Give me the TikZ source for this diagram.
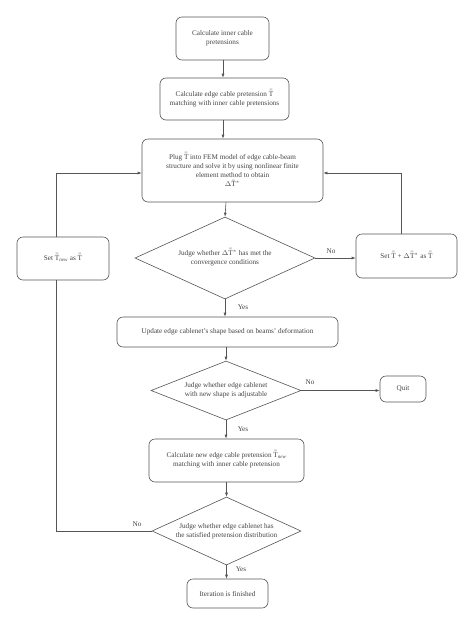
\documentclass[tikz,border=0pt]{standalone}
\usepackage{fontspec}
\setmainfont{Liberation Serif}
\usetikzlibrary{shapes.geometric,arrows.meta}
\definecolor{txt}{HTML}{444444}
\definecolor{ln}{HTML}{555555}
\newcommand{\TT}{\smash{\bar{\bar{\mathrm{T}}}}}
\begin{document}
\begin{tikzpicture}[x=1pt,y=1pt,
  every node/.style={font=\fontsize{7.2}{9.2}\selectfont, text=txt},
  box/.style={draw=ln, line width=0.6pt, rounded corners=6pt, fill=white, align=center, inner sep=0pt},
  dia/.style={draw=ln, line width=0.6pt, diamond, aspect=2, fill=white, align=center, inner sep=0pt},
  arr/.style={draw=ln, line width=0.6pt, -{Latex[length=4pt,width=3pt]}},
  lin/.style={draw=ln, line width=0.6pt},
  lbl/.style={font=\fontsize{7.2}{9}\selectfont, inner sep=0pt}
]
\useasboundingbox (0,0) rectangle (474,-625);
\fill[white] (0,0) rectangle (474,-625);

\node[box, minimum width=93pt, minimum height=43pt] (n1) at (222.5,-38.5) {Calculate inner cable\\pretensions};
\node[box, minimum width=129pt, minimum height=42pt] (n2) at (224.5,-99) {Calculate edge cable pretension $\TT$\\matching with inner cable pretensions};
\node[box, minimum width=181pt, minimum height=63pt] (n3) at (232.5,-170.5) {Plug $\TT$ into FEM model of edge cable-beam\\structure and solve it by using nonlinear finite\\element method to obtain\\$\Delta\TT^{*}$};
\node[dia, minimum width=180pt, minimum height=82pt] (d1) at (225,-258) {Judge whether $\Delta\TT^{*}$ has met the\\convergence conditions};
\node[box, minimum width=92pt, minimum height=43pt] (setL) at (63,-258.5) {Set $\TT_{\mathit{new}}$ as $\TT$};
\node[box, minimum width=101pt, minimum height=44pt] (setR) at (406.5,-256) {Set $\TT$ + $\Delta\TT^{*}$ as $\TT$};
\node[box, minimum width=221pt, minimum height=30pt] (upd) at (227.5,-332) {Update edge cablenet's shape based on beams' deformation};
\node[dia, minimum width=150pt, minimum height=59pt] (d2) at (226,-390.5) {Judge whether edge cablenet\\with new shape is adjustable};
\node[box, minimum width=46pt, minimum height=26pt] (quit) at (403,-389) {Quit};
\node[box, minimum width=155pt, minimum height=43pt] (calc) at (226.5,-460.5) {Calculate new edge cable pretension $\TT_{\mathit{new}}$\\matching with inner cable pretension};
\node[dia, minimum width=149pt, minimum height=68pt] (d3) at (226.5,-531) {Judge whether edge cablenet has\\the satisfied pretension distribution};
\node[box, minimum width=81pt, minimum height=29pt] (iter) at (227.5,-593.5) {Iteration is finished};

\coordinate (m1) at (223,0);
\coordinate (m2) at (226,0);
\draw[arr] (n1.south -| m1) -- (n2.north -| m1);
\draw[arr] (n2.south -| m1) -- (n3.north -| m1);
\draw[arr] (n3.south -| m2) -- (d1.north);
\draw[arr] (d1.south) -- (upd.north -| d1.south);
\draw[arr] (upd.south -| d2.north) -- (d2.north);
\draw[arr] (d2.south) -- (calc.north -| d2.south);
\draw[arr] (calc.south -| d3.north) -- (d3.north);
\draw[arr] (d3.south) -- (iter.north -| d3.south);

\draw[arr] (d1.east) -- (setR.west |- d1.east);
\draw[arr] (d2.east) -- (quit.west |- d2.east);

\coordinate (l1) at (56,-531);
\coordinate (l2) at (56,-173);
\draw[lin] (d3.west) -- (l1) -- (l1 |- setL.south);
\draw[arr] (l1 |- setL.north) -- (l2) -- (l2 -| n3.west);

\coordinate (r1) at (401,-173);
\draw[arr] (r1 |- setR.north) -- (r1) -- (r1 -| n3.east);

\node[lbl] (no1) at (331,-251) {No};
\node[lbl] (yes1) at (243,-307) {Yes};
\node[lbl] (no2) at (310,-382) {No};
\node[lbl] (yes2) at (243,-429) {Yes};
\node[lbl] (no3) at (137,-524) {No};
\node[lbl] (yes3) at (241,-569) {Yes};
\end{tikzpicture}
\end{document}
